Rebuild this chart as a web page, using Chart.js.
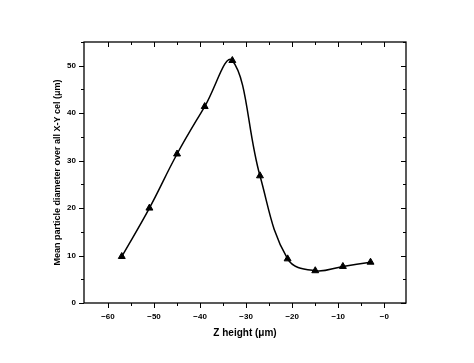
<!DOCTYPE html>
<html>
<head>
<meta charset="utf-8">
<script src="https://cdn.jsdelivr.net/npm/chart.js@4"></script>
<style>
  html, body { margin: 0; padding: 0; background: #fff; }
  #wrap { width: 474px; height: 363px; }
</style>
</head>
<body>
<div id="wrap"><canvas id="myChart" width="474" height="363"></canvas></div>
<script>
// Data
const zHeights = [-57, -51, -45, -39, -33, -27, -21, -15, -9, -3];
const meanDiameters = [9.8, 20.0, 31.4, 41.4, 51.1, 26.8, 9.3, 6.8, 7.7, 8.6];

// Tick labels
const xTickValues = [-60, -50, -40, -30, -20, -10, 0];
const xTickLabels = ['\u221260', '\u221250', '\u221240', '\u221230', '\u221220', '\u221210', '\u22120'];
const yTickValues = [0, 10, 20, 30, 40, 50];
const yTickLabels = ['0', '10', '20', '30', '40', '50'];

const tickFont = { family: 'Liberation Sans, Arial, sans-serif', size: 8, weight: 'bold' };
const titleFont = { family: 'Liberation Sans, Arial, sans-serif', size: 9, weight: 'bold' };

// Frame and tick marks (bottom/left outward, top/right inward)
const framePlugin = {
    id: 'frame',
    afterDraw(chart) {
        const ctx = chart.ctx;
        const a = chart.chartArea;
        const xs = chart.scales.x;
        const ys = chart.scales.y;
        ctx.save();
        ctx.strokeStyle = '#000';
        ctx.lineWidth = 1.3;
        ctx.strokeRect(a.left, a.top, a.right - a.left, a.bottom - a.top);
        ctx.lineWidth = 1;
        ctx.beginPath();
        xs.ticks.forEach(function(t) {
            if (Math.abs(t.value % 5) > 1e-6) return;
            const len = (Math.abs(t.value % 10) < 1e-6) ? 5 : 3;
            const px = Math.round(xs.getPixelForValue(t.value)) + 0.5;
            ctx.moveTo(px, a.bottom); ctx.lineTo(px, a.bottom + len);
            ctx.moveTo(px, a.top); ctx.lineTo(px, a.top + len);
        });
        ys.ticks.forEach(function(t) {
            if (Math.abs(t.value % 5) > 1e-6) return;
            const len = (Math.abs(t.value % 10) < 1e-6) ? 5 : 3;
            const py = Math.round(ys.getPixelForValue(t.value)) + 0.5;
            ctx.moveTo(a.left, py); ctx.lineTo(a.left - len, py);
            ctx.moveTo(a.right, py); ctx.lineTo(a.right - len, py);
        });
        ctx.stroke();
        ctx.restore();
    }
};

const ctx = document.getElementById('myChart').getContext('2d');
const myChart = new Chart(ctx, {
    type: 'line',
    data: {
        datasets: [{
            label: 'Mean particle diameter',
            data: zHeights.map(function(z, i) { return { x: z, y: meanDiameters[i] }; }),
            borderColor: '#000',
            backgroundColor: '#000',
            borderWidth: 1.5,
            tension: 0.4,
            pointStyle: 'triangle',
            pointRadius: 4,
            pointBorderWidth: 1,
            fill: false
        }]
    },
    options: {
        responsive: false,
        animation: false,
        devicePixelRatio: 1,
        layout: { padding: { top: 42, right: 68, left: 0, bottom: 0 } },
        plugins: {
            legend: { display: false },
            tooltip: { enabled: false }
        },
        scales: {
            x: {
                type: 'linear',
                min: -65.2,
                max: 4.7,
                grid: { display: false, drawTicks: false },
                border: { display: false },
                ticks: {
                    stepSize: 5,
                    autoSkip: false,
                    maxRotation: 0,
                    padding: 9,
                    color: '#000',
                    font: tickFont,
                    callback: function(v) {
                        const i = xTickValues.indexOf(v);
                        return i >= 0 ? xTickLabels[i] : '';
                    }
                },
                title: {
                    display: true,
                    text: 'Z height (\u03bcm)',
                    color: '#000',
                    font: { family: titleFont.family, size: 10, weight: 'bold' },
                    padding: { top: 0, bottom: 24 }
                },
                afterFit: function(scale) { scale.height = 60; }
            },
            y: {
                type: 'linear',
                min: 0,
                max: 55,
                grid: { display: false, drawTicks: false },
                border: { display: false },
                ticks: {
                    stepSize: 5,
                    autoSkip: false,
                    padding: 8,
                    color: '#000',
                    font: tickFont,
                    callback: function(v) {
                        const i = yTickValues.indexOf(v);
                        return i >= 0 ? yTickLabels[i] : '';
                    }
                },
                title: {
                    display: true,
                    text: 'Mean particle diameter over all X-Y cel (\u03bcm)',
                    color: '#000',
                    font: titleFont,
                    padding: { top: 52, bottom: 0 }
                },
                afterFit: function(scale) { scale.width = 84; }
            }
        }
    },
    plugins: [framePlugin]
});
</script>
</body>
</html>
